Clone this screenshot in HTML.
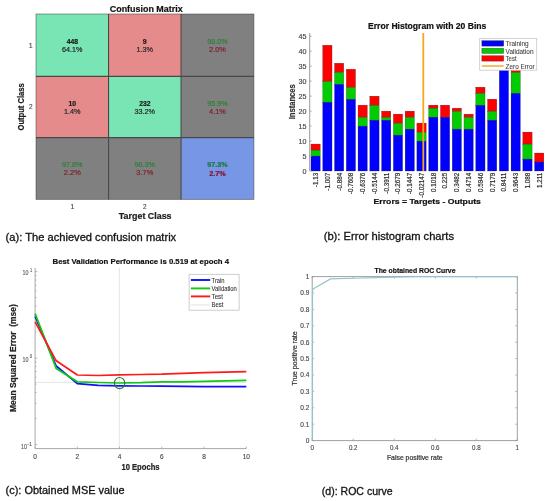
<!DOCTYPE html>
<html><head><meta charset="utf-8"><title>Figure</title>
<style>html,body{margin:0;padding:0;background:#fff;}svg{display:block;font-family:"Liberation Sans",Arial,sans-serif;filter:blur(0.35px);}</style>
</head><body>
<svg width="550" height="501" viewBox="0 0 550 501">
<rect width="550" height="501" fill="#fff"/>
<rect x="36" y="14" width="72.55" height="62.40" fill="#79e4b4"/>
<rect x="108.55" y="14" width="72.50" height="62.40" fill="#e68b8b"/>
<rect x="181.05" y="14" width="72.85" height="62.40" fill="#808080"/>
<rect x="36" y="76.4" width="72.55" height="61.20" fill="#e68b8b"/>
<rect x="108.55" y="76.4" width="72.50" height="61.20" fill="#79e4b4"/>
<rect x="181.05" y="76.4" width="72.85" height="61.20" fill="#808080"/>
<rect x="36" y="137.6" width="72.55" height="61.80" fill="#808080"/>
<rect x="108.55" y="137.6" width="72.50" height="61.80" fill="#808080"/>
<rect x="181.05" y="137.6" width="72.85" height="61.80" fill="#7796e6"/>
<line x1="108.55" y1="14" x2="108.55" y2="199.4" stroke="#484848" stroke-width="1.1"/>
<line x1="181.05" y1="14" x2="181.05" y2="199.4" stroke="#484848" stroke-width="1.1"/>
<line x1="36" y1="76.4" x2="253.9" y2="76.4" stroke="#484848" stroke-width="1.1"/>
<line x1="36" y1="137.6" x2="253.9" y2="137.6" stroke="#484848" stroke-width="1.1"/>
<rect x="36" y="14" width="217.90" height="185.40" fill="none" stroke="#3a3a3a" stroke-opacity="0.55" stroke-width="0.9"/>
<text x="72.28" y="44.03" font-size="6.8" stroke="#1a1a1a" stroke-width="0.2" font-weight="bold" text-anchor="middle" textLength="11.30" lengthAdjust="spacingAndGlyphs" fill="#1a1a1a">448</text>
<text x="72.28" y="52.13" font-size="6.8" stroke="#2a2a2a" stroke-width="0.2" text-anchor="middle" textLength="20.50" lengthAdjust="spacingAndGlyphs" fill="#2a2a2a">64.1%</text>
<text x="144.80" y="44.03" font-size="6.8" stroke="#1a1a1a" stroke-width="0.2" font-weight="bold" text-anchor="middle" textLength="3.90" lengthAdjust="spacingAndGlyphs" fill="#1a1a1a">9</text>
<text x="144.80" y="52.13" font-size="6.8" stroke="#2a2a2a" stroke-width="0.2" text-anchor="middle" textLength="16.60" lengthAdjust="spacingAndGlyphs" fill="#2a2a2a">1.3%</text>
<text x="72.28" y="105.83" font-size="6.8" stroke="#1a1a1a" stroke-width="0.2" font-weight="bold" text-anchor="middle" textLength="7.60" lengthAdjust="spacingAndGlyphs" fill="#1a1a1a">10</text>
<text x="72.28" y="113.93" font-size="6.8" stroke="#2a2a2a" stroke-width="0.2" text-anchor="middle" textLength="16.60" lengthAdjust="spacingAndGlyphs" fill="#2a2a2a">1.4%</text>
<text x="144.80" y="105.83" font-size="6.8" stroke="#1a1a1a" stroke-width="0.2" font-weight="bold" text-anchor="middle" textLength="11.30" lengthAdjust="spacingAndGlyphs" fill="#1a1a1a">232</text>
<text x="144.80" y="113.93" font-size="6.8" stroke="#2a2a2a" stroke-width="0.2" text-anchor="middle" textLength="20.50" lengthAdjust="spacingAndGlyphs" fill="#2a2a2a">33.2%</text>
<text x="217.48" y="44.03" font-size="6.8" stroke="#2f8038" stroke-width="0.2" text-anchor="middle" textLength="20.50" lengthAdjust="spacingAndGlyphs" fill="#2f8038">98.0%</text>
<text x="217.48" y="52.13" font-size="6.8" stroke="#7e2430" stroke-width="0.2" text-anchor="middle" textLength="16.90" lengthAdjust="spacingAndGlyphs" fill="#7e2430">2.0%</text>
<text x="217.48" y="105.83" font-size="6.8" stroke="#2f8038" stroke-width="0.2" text-anchor="middle" textLength="20.50" lengthAdjust="spacingAndGlyphs" fill="#2f8038">95.9%</text>
<text x="217.48" y="113.93" font-size="6.8" stroke="#7e2430" stroke-width="0.2" text-anchor="middle" textLength="16.90" lengthAdjust="spacingAndGlyphs" fill="#7e2430">4.1%</text>
<text x="72.28" y="167.33" font-size="6.8" stroke="#2f8038" stroke-width="0.2" text-anchor="middle" textLength="20.50" lengthAdjust="spacingAndGlyphs" fill="#2f8038">97.8%</text>
<text x="72.28" y="175.43" font-size="6.8" stroke="#7e2430" stroke-width="0.2" text-anchor="middle" textLength="16.90" lengthAdjust="spacingAndGlyphs" fill="#7e2430">2.2%</text>
<text x="144.80" y="167.33" font-size="6.8" stroke="#2f8038" stroke-width="0.2" text-anchor="middle" textLength="20.50" lengthAdjust="spacingAndGlyphs" fill="#2f8038">96.3%</text>
<text x="144.80" y="175.43" font-size="6.8" stroke="#7e2430" stroke-width="0.2" text-anchor="middle" textLength="16.90" lengthAdjust="spacingAndGlyphs" fill="#7e2430">3.7%</text>
<text x="217.48" y="167.23" font-size="6.8" stroke="#1e7a3e" stroke-width="0.2" font-weight="bold" text-anchor="middle" textLength="20.40" lengthAdjust="spacingAndGlyphs" fill="#1e7a3e">97.3%</text>
<text x="217.48" y="175.53" font-size="6.8" stroke="#8a1030" stroke-width="0.2" font-weight="bold" text-anchor="middle" textLength="16.60" lengthAdjust="spacingAndGlyphs" fill="#8a1030">2.7%</text>
<text x="146.20" y="11.52" font-size="9.0" stroke="#111" stroke-width="0.2" font-weight="bold" text-anchor="middle" textLength="72.90" lengthAdjust="spacingAndGlyphs" fill="#111">Confusion Matrix</text>
<text x="30.60" y="47.81" font-size="7.0" stroke="#444" stroke-width="0.12" text-anchor="middle" fill="#444">1</text>
<text x="30.70" y="109.21" font-size="7.0" stroke="#444" stroke-width="0.12" text-anchor="middle" textLength="3.60" lengthAdjust="spacingAndGlyphs" fill="#444">2</text>
<text x="72.50" y="208.91" font-size="7.0" stroke="#444" stroke-width="0.12" text-anchor="middle" fill="#444">1</text>
<text x="144.80" y="208.71" font-size="7.0" stroke="#444" stroke-width="0.12" text-anchor="middle" textLength="3.60" lengthAdjust="spacingAndGlyphs" fill="#444">2</text>
<text x="145.20" y="218.94" font-size="8.2" stroke="#222" stroke-width="0.2" font-weight="bold" text-anchor="middle" textLength="52.70" lengthAdjust="spacingAndGlyphs" fill="#222">Target Class</text>
<text transform="translate(23.51,106.90) rotate(-90)" font-size="8.4" stroke="#222" stroke-width="0.2" font-weight="bold" text-anchor="middle" textLength="47.20" lengthAdjust="spacingAndGlyphs" fill="#222">Output Class</text>
<text x="5.60" y="240.60" font-size="10.6" stroke="#141414" stroke-width="0.3" textLength="170.60" lengthAdjust="spacingAndGlyphs" fill="#141414">(a): The achieved confusion matrix</text>
<rect x="310.95" y="156.03" width="9.3" height="14.98" fill="#0000ff" stroke="#333" stroke-width="0.25"/>
<rect x="310.95" y="150.03" width="9.3" height="5.99" fill="#00cc00" stroke="#333" stroke-width="0.25"/>
<rect x="310.95" y="144.04" width="9.3" height="5.99" fill="#ff0000" stroke="#333" stroke-width="0.25"/>
<rect x="322.72" y="102.11" width="9.3" height="68.89" fill="#0000ff" stroke="#333" stroke-width="0.25"/>
<rect x="322.72" y="81.15" width="9.3" height="20.96" fill="#00cc00" stroke="#333" stroke-width="0.25"/>
<rect x="322.72" y="45.21" width="9.3" height="35.94" fill="#ff0000" stroke="#333" stroke-width="0.25"/>
<rect x="334.49" y="84.14" width="9.3" height="86.86" fill="#0000ff" stroke="#333" stroke-width="0.25"/>
<rect x="334.49" y="72.16" width="9.3" height="11.98" fill="#00cc00" stroke="#333" stroke-width="0.25"/>
<rect x="334.49" y="63.18" width="9.3" height="8.98" fill="#ff0000" stroke="#333" stroke-width="0.25"/>
<rect x="346.26" y="99.12" width="9.3" height="71.88" fill="#0000ff" stroke="#333" stroke-width="0.25"/>
<rect x="346.26" y="87.14" width="9.3" height="11.98" fill="#00cc00" stroke="#333" stroke-width="0.25"/>
<rect x="346.26" y="69.17" width="9.3" height="17.97" fill="#ff0000" stroke="#333" stroke-width="0.25"/>
<rect x="358.03" y="126.07" width="9.3" height="44.93" fill="#0000ff" stroke="#333" stroke-width="0.25"/>
<rect x="358.03" y="117.09" width="9.3" height="8.98" fill="#00cc00" stroke="#333" stroke-width="0.25"/>
<rect x="358.03" y="105.11" width="9.3" height="11.98" fill="#ff0000" stroke="#333" stroke-width="0.25"/>
<rect x="369.80" y="120.09" width="9.3" height="50.91" fill="#0000ff" stroke="#333" stroke-width="0.25"/>
<rect x="369.80" y="105.11" width="9.3" height="14.98" fill="#00cc00" stroke="#333" stroke-width="0.25"/>
<rect x="369.80" y="96.12" width="9.3" height="8.98" fill="#ff0000" stroke="#333" stroke-width="0.25"/>
<rect x="381.57" y="120.09" width="9.3" height="50.91" fill="#0000ff" stroke="#333" stroke-width="0.25"/>
<rect x="381.57" y="117.09" width="9.3" height="3.00" fill="#00cc00" stroke="#333" stroke-width="0.25"/>
<rect x="381.57" y="111.10" width="9.3" height="5.99" fill="#ff0000" stroke="#333" stroke-width="0.25"/>
<rect x="393.34" y="135.06" width="9.3" height="35.94" fill="#0000ff" stroke="#333" stroke-width="0.25"/>
<rect x="393.34" y="123.08" width="9.3" height="11.98" fill="#00cc00" stroke="#333" stroke-width="0.25"/>
<rect x="393.34" y="114.09" width="9.3" height="8.98" fill="#ff0000" stroke="#333" stroke-width="0.25"/>
<rect x="405.11" y="129.07" width="9.3" height="41.93" fill="#0000ff" stroke="#333" stroke-width="0.25"/>
<rect x="405.11" y="117.09" width="9.3" height="11.98" fill="#00cc00" stroke="#333" stroke-width="0.25"/>
<rect x="405.11" y="111.10" width="9.3" height="5.99" fill="#ff0000" stroke="#333" stroke-width="0.25"/>
<rect x="416.88" y="141.05" width="9.3" height="29.95" fill="#0000ff" stroke="#333" stroke-width="0.25"/>
<rect x="416.88" y="132.06" width="9.3" height="8.98" fill="#00cc00" stroke="#333" stroke-width="0.25"/>
<rect x="416.88" y="123.08" width="9.3" height="8.98" fill="#ff0000" stroke="#333" stroke-width="0.25"/>
<rect x="428.65" y="117.09" width="9.3" height="53.91" fill="#0000ff" stroke="#333" stroke-width="0.25"/>
<rect x="428.65" y="108.10" width="9.3" height="8.98" fill="#00cc00" stroke="#333" stroke-width="0.25"/>
<rect x="428.65" y="105.11" width="9.3" height="3.00" fill="#ff0000" stroke="#333" stroke-width="0.25"/>
<rect x="440.42" y="117.09" width="9.3" height="53.91" fill="#0000ff" stroke="#333" stroke-width="0.25"/>
<rect x="440.42" y="105.11" width="9.3" height="11.98" fill="#ff0000" stroke="#333" stroke-width="0.25"/>
<rect x="452.19" y="129.07" width="9.3" height="41.93" fill="#0000ff" stroke="#333" stroke-width="0.25"/>
<rect x="452.19" y="111.10" width="9.3" height="17.97" fill="#00cc00" stroke="#333" stroke-width="0.25"/>
<rect x="452.19" y="108.10" width="9.3" height="3.00" fill="#ff0000" stroke="#333" stroke-width="0.25"/>
<rect x="463.96" y="129.07" width="9.3" height="41.93" fill="#0000ff" stroke="#333" stroke-width="0.25"/>
<rect x="463.96" y="117.09" width="9.3" height="11.98" fill="#00cc00" stroke="#333" stroke-width="0.25"/>
<rect x="463.96" y="114.09" width="9.3" height="3.00" fill="#ff0000" stroke="#333" stroke-width="0.25"/>
<rect x="475.73" y="105.11" width="9.3" height="65.89" fill="#0000ff" stroke="#333" stroke-width="0.25"/>
<rect x="475.73" y="93.13" width="9.3" height="11.98" fill="#00cc00" stroke="#333" stroke-width="0.25"/>
<rect x="475.73" y="87.14" width="9.3" height="5.99" fill="#ff0000" stroke="#333" stroke-width="0.25"/>
<rect x="487.50" y="120.09" width="9.3" height="50.91" fill="#0000ff" stroke="#333" stroke-width="0.25"/>
<rect x="487.50" y="111.10" width="9.3" height="8.98" fill="#00cc00" stroke="#333" stroke-width="0.25"/>
<rect x="487.50" y="99.12" width="9.3" height="11.98" fill="#ff0000" stroke="#333" stroke-width="0.25"/>
<rect x="499.27" y="51.20" width="9.3" height="119.80" fill="#0000ff" stroke="#333" stroke-width="0.25"/>
<rect x="499.27" y="45.21" width="9.3" height="5.99" fill="#00cc00" stroke="#333" stroke-width="0.25"/>
<rect x="499.27" y="39.22" width="9.3" height="5.99" fill="#ff0000" stroke="#333" stroke-width="0.25"/>
<rect x="511.04" y="93.13" width="9.3" height="77.87" fill="#0000ff" stroke="#333" stroke-width="0.25"/>
<rect x="511.04" y="72.16" width="9.3" height="20.96" fill="#00cc00" stroke="#333" stroke-width="0.25"/>
<rect x="511.04" y="66.17" width="9.3" height="5.99" fill="#ff0000" stroke="#333" stroke-width="0.25"/>
<rect x="522.81" y="159.02" width="9.3" height="11.98" fill="#0000ff" stroke="#333" stroke-width="0.25"/>
<rect x="522.81" y="144.04" width="9.3" height="14.98" fill="#00cc00" stroke="#333" stroke-width="0.25"/>
<rect x="522.81" y="132.06" width="9.3" height="11.98" fill="#ff0000" stroke="#333" stroke-width="0.25"/>
<rect x="534.58" y="162.01" width="9.3" height="8.98" fill="#0000ff" stroke="#333" stroke-width="0.25"/>
<rect x="534.58" y="153.03" width="9.3" height="8.98" fill="#ff0000" stroke="#333" stroke-width="0.25"/>
<line x1="423.3" y1="33.0" x2="423.3" y2="171.0" stroke="#f6a51e" stroke-width="1.8"/>
<line x1="309.7" y1="33.0" x2="309.7" y2="171.0" stroke="#9a9a9a" stroke-width="1"/>
<line x1="309.7" y1="171.00" x2="311.7" y2="171.00" stroke="#9a9a9a" stroke-width="0.8"/>
<text x="306.60" y="173.69" font-size="6.4" stroke="#444" stroke-width="0.14" text-anchor="end" textLength="3.99" lengthAdjust="spacingAndGlyphs" fill="#444">0</text>
<line x1="309.7" y1="156.03" x2="311.7" y2="156.03" stroke="#9a9a9a" stroke-width="0.8"/>
<text x="306.60" y="158.72" font-size="6.4" stroke="#444" stroke-width="0.14" text-anchor="end" textLength="3.99" lengthAdjust="spacingAndGlyphs" fill="#444">5</text>
<line x1="309.7" y1="141.05" x2="311.7" y2="141.05" stroke="#9a9a9a" stroke-width="0.8"/>
<text x="306.60" y="143.74" font-size="6.4" stroke="#444" stroke-width="0.14" text-anchor="end" textLength="7.97" lengthAdjust="spacingAndGlyphs" fill="#444">10</text>
<line x1="309.7" y1="126.07" x2="311.7" y2="126.07" stroke="#9a9a9a" stroke-width="0.8"/>
<text x="306.60" y="128.77" font-size="6.4" stroke="#444" stroke-width="0.14" text-anchor="end" textLength="7.97" lengthAdjust="spacingAndGlyphs" fill="#444">15</text>
<line x1="309.7" y1="111.10" x2="311.7" y2="111.10" stroke="#9a9a9a" stroke-width="0.8"/>
<text x="306.60" y="113.79" font-size="6.4" stroke="#444" stroke-width="0.14" text-anchor="end" textLength="7.97" lengthAdjust="spacingAndGlyphs" fill="#444">20</text>
<line x1="309.7" y1="96.12" x2="311.7" y2="96.12" stroke="#9a9a9a" stroke-width="0.8"/>
<text x="306.60" y="98.82" font-size="6.4" stroke="#444" stroke-width="0.14" text-anchor="end" textLength="7.97" lengthAdjust="spacingAndGlyphs" fill="#444">25</text>
<line x1="309.7" y1="81.15" x2="311.7" y2="81.15" stroke="#9a9a9a" stroke-width="0.8"/>
<text x="306.60" y="83.84" font-size="6.4" stroke="#444" stroke-width="0.14" text-anchor="end" textLength="7.97" lengthAdjust="spacingAndGlyphs" fill="#444">30</text>
<line x1="309.7" y1="66.17" x2="311.7" y2="66.17" stroke="#9a9a9a" stroke-width="0.8"/>
<text x="306.60" y="68.87" font-size="6.4" stroke="#444" stroke-width="0.14" text-anchor="end" textLength="7.97" lengthAdjust="spacingAndGlyphs" fill="#444">35</text>
<line x1="309.7" y1="51.20" x2="311.7" y2="51.20" stroke="#9a9a9a" stroke-width="0.8"/>
<text x="306.60" y="53.89" font-size="6.4" stroke="#444" stroke-width="0.14" text-anchor="end" textLength="7.97" lengthAdjust="spacingAndGlyphs" fill="#444">40</text>
<line x1="309.7" y1="36.22" x2="311.7" y2="36.22" stroke="#9a9a9a" stroke-width="0.8"/>
<text x="306.60" y="38.92" font-size="6.4" stroke="#444" stroke-width="0.14" text-anchor="end" textLength="7.97" lengthAdjust="spacingAndGlyphs" fill="#444">45</text>
<text transform="translate(317.96,172.80) rotate(-90)" font-size="6.3" stroke="#333" stroke-width="0.2" text-anchor="end" textLength="14.36" lengthAdjust="spacingAndGlyphs" fill="#333">-1.13</text>
<text transform="translate(329.73,172.80) rotate(-90)" font-size="6.3" stroke="#333" stroke-width="0.2" text-anchor="end" textLength="17.86" lengthAdjust="spacingAndGlyphs" fill="#333">-1.007</text>
<text transform="translate(341.50,172.80) rotate(-90)" font-size="6.3" stroke="#333" stroke-width="0.2" text-anchor="end" textLength="17.86" lengthAdjust="spacingAndGlyphs" fill="#333">-0.884</text>
<text transform="translate(353.27,172.80) rotate(-90)" font-size="6.3" stroke="#333" stroke-width="0.2" text-anchor="end" textLength="21.36" lengthAdjust="spacingAndGlyphs" fill="#333">-0.7608</text>
<text transform="translate(365.04,172.80) rotate(-90)" font-size="6.3" stroke="#333" stroke-width="0.2" text-anchor="end" textLength="21.36" lengthAdjust="spacingAndGlyphs" fill="#333">-0.6376</text>
<text transform="translate(376.81,172.80) rotate(-90)" font-size="6.3" stroke="#333" stroke-width="0.2" text-anchor="end" textLength="21.36" lengthAdjust="spacingAndGlyphs" fill="#333">-0.5144</text>
<text transform="translate(388.58,172.80) rotate(-90)" font-size="6.3" stroke="#333" stroke-width="0.2" text-anchor="end" textLength="20.90" lengthAdjust="spacingAndGlyphs" fill="#333">-0.3911</text>
<text transform="translate(400.35,172.80) rotate(-90)" font-size="6.3" stroke="#333" stroke-width="0.2" text-anchor="end" textLength="21.36" lengthAdjust="spacingAndGlyphs" fill="#333">-0.2679</text>
<text transform="translate(412.12,172.80) rotate(-90)" font-size="6.3" stroke="#333" stroke-width="0.2" text-anchor="end" textLength="21.36" lengthAdjust="spacingAndGlyphs" fill="#333">-0.1447</text>
<text transform="translate(423.89,172.80) rotate(-90)" font-size="6.3" stroke="#333" stroke-width="0.2" text-anchor="end" textLength="24.87" lengthAdjust="spacingAndGlyphs" fill="#333">-0.02147</text>
<text transform="translate(435.66,172.80) rotate(-90)" font-size="6.3" stroke="#333" stroke-width="0.2" text-anchor="end" textLength="19.27" lengthAdjust="spacingAndGlyphs" fill="#333">0.1018</text>
<text transform="translate(447.43,172.80) rotate(-90)" font-size="6.3" stroke="#333" stroke-width="0.2" text-anchor="end" textLength="15.76" lengthAdjust="spacingAndGlyphs" fill="#333">0.225</text>
<text transform="translate(459.20,172.80) rotate(-90)" font-size="6.3" stroke="#333" stroke-width="0.2" text-anchor="end" textLength="19.27" lengthAdjust="spacingAndGlyphs" fill="#333">0.3482</text>
<text transform="translate(470.97,172.80) rotate(-90)" font-size="6.3" stroke="#333" stroke-width="0.2" text-anchor="end" textLength="19.27" lengthAdjust="spacingAndGlyphs" fill="#333">0.4714</text>
<text transform="translate(482.74,172.80) rotate(-90)" font-size="6.3" stroke="#333" stroke-width="0.2" text-anchor="end" textLength="19.27" lengthAdjust="spacingAndGlyphs" fill="#333">0.5946</text>
<text transform="translate(494.51,172.80) rotate(-90)" font-size="6.3" stroke="#333" stroke-width="0.2" text-anchor="end" textLength="19.27" lengthAdjust="spacingAndGlyphs" fill="#333">0.7179</text>
<text transform="translate(506.28,172.80) rotate(-90)" font-size="6.3" stroke="#333" stroke-width="0.2" text-anchor="end" textLength="18.80" lengthAdjust="spacingAndGlyphs" fill="#333">0.8411</text>
<text transform="translate(518.05,172.80) rotate(-90)" font-size="6.3" stroke="#333" stroke-width="0.2" text-anchor="end" textLength="19.27" lengthAdjust="spacingAndGlyphs" fill="#333">0.9643</text>
<text transform="translate(529.82,172.80) rotate(-90)" font-size="6.3" stroke="#333" stroke-width="0.2" text-anchor="end" textLength="15.76" lengthAdjust="spacingAndGlyphs" fill="#333">1.088</text>
<text transform="translate(541.59,172.80) rotate(-90)" font-size="6.3" stroke="#333" stroke-width="0.2" text-anchor="end" textLength="15.30" lengthAdjust="spacingAndGlyphs" fill="#333">1.211</text>
<text x="368.00" y="29.40" font-size="8.6" stroke="#111" stroke-width="0.2" font-weight="bold" textLength="118.40" lengthAdjust="spacingAndGlyphs" fill="#111">Error Histogram with 20 Bins</text>
<text x="373.60" y="204.30" font-size="7.5" stroke="#111" stroke-width="0.2" font-weight="bold" textLength="107.30" lengthAdjust="spacingAndGlyphs" fill="#111">Errors = Targets - Outputs</text>
<text transform="translate(295.05,101.80) rotate(-90)" font-size="8.8" stroke="#333" stroke-width="0.2" font-weight="bold" text-anchor="middle" textLength="35.00" lengthAdjust="spacingAndGlyphs" fill="#333">Instances</text>
<rect x="479.7" y="38.4" width="57.0" height="31.8" fill="#fff" stroke="#c8c8c8" stroke-width="0.8"/>
<rect x="481.9" y="40.7" width="21.8" height="5.40" fill="#0000ff" stroke="#222" stroke-width="0.35"/>
<text x="505.60" y="46.33" font-size="6.5" stroke="#444" stroke-width="0.08" textLength="23.10" lengthAdjust="spacingAndGlyphs" fill="#444">Training</text>
<rect x="481.9" y="48.3" width="21.8" height="5.10" fill="#00cc00" stroke="#222" stroke-width="0.35"/>
<text x="505.60" y="53.78" font-size="6.5" stroke="#444" stroke-width="0.08" textLength="27.90" lengthAdjust="spacingAndGlyphs" fill="#444">Validation</text>
<rect x="481.9" y="55.8" width="21.8" height="5.30" fill="#ff0000" stroke="#222" stroke-width="0.35"/>
<text x="505.60" y="61.38" font-size="6.5" stroke="#444" stroke-width="0.08" textLength="11.00" lengthAdjust="spacingAndGlyphs" fill="#444">Test</text>
<line x1="481.9" y1="66" x2="503.7" y2="66" stroke="#f6a51e" stroke-width="1.4"/>
<text x="505.60" y="68.93" font-size="6.5" stroke="#444" stroke-width="0.08" textLength="29.00" lengthAdjust="spacingAndGlyphs" fill="#444">Zero Error</text>
<text x="323.70" y="240.40" font-size="10.6" stroke="#141414" stroke-width="0.3" textLength="130.30" lengthAdjust="spacingAndGlyphs" fill="#141414">(b): Error histogram charts</text>
<line x1="119.3" y1="268.0" x2="119.3" y2="448.6" stroke="#dfe8df" stroke-width="1"/>
<line x1="35.1" y1="382.4" x2="246.3" y2="382.4" stroke="#dfe8df" stroke-width="1"/>
<polyline points="35.1,268.0 35.1,448.6 246.3,448.6" fill="none" stroke="#a8a8a8" stroke-width="1"/>
<line x1="35.1" y1="444.60" x2="37.300000000000004" y2="444.60" stroke="#999" stroke-width="0.7"/>
<line x1="35.1" y1="418.56" x2="36.5" y2="418.56" stroke="#999" stroke-width="0.7"/>
<line x1="35.1" y1="403.33" x2="36.5" y2="403.33" stroke="#999" stroke-width="0.7"/>
<line x1="35.1" y1="392.52" x2="36.5" y2="392.52" stroke="#999" stroke-width="0.7"/>
<line x1="35.1" y1="384.14" x2="36.5" y2="384.14" stroke="#999" stroke-width="0.7"/>
<line x1="35.1" y1="377.29" x2="36.5" y2="377.29" stroke="#999" stroke-width="0.7"/>
<line x1="35.1" y1="371.50" x2="36.5" y2="371.50" stroke="#999" stroke-width="0.7"/>
<line x1="35.1" y1="366.48" x2="36.5" y2="366.48" stroke="#999" stroke-width="0.7"/>
<line x1="35.1" y1="362.06" x2="36.5" y2="362.06" stroke="#999" stroke-width="0.7"/>
<line x1="35.1" y1="358.10" x2="37.300000000000004" y2="358.10" stroke="#999" stroke-width="0.7"/>
<line x1="35.1" y1="332.06" x2="36.5" y2="332.06" stroke="#999" stroke-width="0.7"/>
<line x1="35.1" y1="316.83" x2="36.5" y2="316.83" stroke="#999" stroke-width="0.7"/>
<line x1="35.1" y1="306.02" x2="36.5" y2="306.02" stroke="#999" stroke-width="0.7"/>
<line x1="35.1" y1="297.64" x2="36.5" y2="297.64" stroke="#999" stroke-width="0.7"/>
<line x1="35.1" y1="290.79" x2="36.5" y2="290.79" stroke="#999" stroke-width="0.7"/>
<line x1="35.1" y1="285.00" x2="36.5" y2="285.00" stroke="#999" stroke-width="0.7"/>
<line x1="35.1" y1="279.98" x2="36.5" y2="279.98" stroke="#999" stroke-width="0.7"/>
<line x1="35.1" y1="275.56" x2="36.5" y2="275.56" stroke="#999" stroke-width="0.7"/>
<line x1="35.1" y1="271.60" x2="37.300000000000004" y2="271.60" stroke="#999" stroke-width="0.7"/>
<line x1="35.10" y1="448.6" x2="35.10" y2="446.6" stroke="#999" stroke-width="0.7"/>
<text x="35.10" y="459.28" font-size="7.2" stroke="#444" stroke-width="0.12" text-anchor="middle" textLength="3.62" lengthAdjust="spacingAndGlyphs" fill="#444">0</text>
<line x1="77.34" y1="448.6" x2="77.34" y2="446.6" stroke="#999" stroke-width="0.7"/>
<text x="77.34" y="459.28" font-size="7.2" stroke="#444" stroke-width="0.12" text-anchor="middle" textLength="3.62" lengthAdjust="spacingAndGlyphs" fill="#444">2</text>
<line x1="119.58" y1="448.6" x2="119.58" y2="446.6" stroke="#999" stroke-width="0.7"/>
<text x="119.58" y="459.28" font-size="7.2" stroke="#444" stroke-width="0.12" text-anchor="middle" textLength="3.62" lengthAdjust="spacingAndGlyphs" fill="#444">4</text>
<line x1="161.82" y1="448.6" x2="161.82" y2="446.6" stroke="#999" stroke-width="0.7"/>
<text x="161.82" y="459.28" font-size="7.2" stroke="#444" stroke-width="0.12" text-anchor="middle" textLength="3.62" lengthAdjust="spacingAndGlyphs" fill="#444">6</text>
<line x1="204.06" y1="448.6" x2="204.06" y2="446.6" stroke="#999" stroke-width="0.7"/>
<text x="204.06" y="459.28" font-size="7.2" stroke="#444" stroke-width="0.12" text-anchor="middle" textLength="3.62" lengthAdjust="spacingAndGlyphs" fill="#444">8</text>
<line x1="246.30" y1="448.6" x2="246.30" y2="446.6" stroke="#999" stroke-width="0.7"/>
<text x="246.30" y="459.28" font-size="7.2" stroke="#444" stroke-width="0.12" text-anchor="middle" textLength="7.24" lengthAdjust="spacingAndGlyphs" fill="#444">10</text>
<text x="28.60" y="275.11" font-size="7.0" stroke="#555" stroke-width="0.12" text-anchor="end" textLength="6.00" lengthAdjust="spacingAndGlyphs" fill="#555">10</text>
<text x="29.90" y="271.72" font-size="4.8" stroke="#555" stroke-width="0.08" textLength="2.20" lengthAdjust="spacingAndGlyphs" fill="#555">1</text>
<text x="28.60" y="361.71" font-size="7.0" stroke="#555" stroke-width="0.12" text-anchor="end" textLength="6.00" lengthAdjust="spacingAndGlyphs" fill="#555">10</text>
<text x="29.80" y="358.22" font-size="4.8" stroke="#555" stroke-width="0.08" textLength="2.40" lengthAdjust="spacingAndGlyphs" fill="#555">0</text>
<text x="26.90" y="448.81" font-size="7.0" stroke="#555" stroke-width="0.12" text-anchor="end" textLength="6.00" lengthAdjust="spacingAndGlyphs" fill="#555">10</text>
<text x="27.20" y="445.72" font-size="4.8" stroke="#555" stroke-width="0.08" textLength="4.90" lengthAdjust="spacingAndGlyphs" fill="#555">-1</text>
<polyline points="35.10,316.4 56.22,366 77.34,383.7 98.46,385.4 119.58,385.8 140.70,386.0 161.82,386.2 182.94,386.4 204.06,386.5 225.18,386.6 246.30,386.7" fill="none" stroke="#1010ff" stroke-width="1.75" stroke-linejoin="round"/>
<polyline points="35.10,313.6 56.22,368.4 77.34,381.8 98.46,382.5 119.58,383 140.70,382.7 161.82,381.9 182.94,381.8 204.06,381.4 225.18,380.9 246.30,380.4" fill="none" stroke="#10c810" stroke-width="1.75" stroke-linejoin="round"/>
<polyline points="35.10,321.8 56.22,360.8 77.34,375 98.46,375.5 119.58,374.8 140.70,374.5 161.82,374.2 182.94,373.4 204.06,372.7 225.18,372.2 246.30,371.7" fill="none" stroke="#ff1a1a" stroke-width="1.75" stroke-linejoin="round"/>
<ellipse cx="119.6" cy="383.1" rx="5.2" ry="5.6" fill="none" stroke="#2a7a30" stroke-width="1.2"/>
<text x="52.60" y="264.40" font-size="8.1" stroke="#111" stroke-width="0.2" font-weight="bold" textLength="176.40" lengthAdjust="spacingAndGlyphs" fill="#111">Best Validation Performance is 0.519 at epoch 4</text>
<text x="121.40" y="470.40" font-size="8.8" stroke="#222" stroke-width="0.2" font-weight="bold" textLength="38.20" lengthAdjust="spacingAndGlyphs" fill="#222">10 Epochs</text>
<text transform="translate(16.34,358.10) rotate(-90)" font-size="8.5" stroke="#222" stroke-width="0.2" font-weight="bold" text-anchor="middle" textLength="107.80" lengthAdjust="spacingAndGlyphs" fill="#222">Mean Squared Error  (mse)</text>
<rect x="189.1" y="274.3" width="50" height="35.9" fill="#fff" stroke="#c0c0c0" stroke-width="0.8"/>
<line x1="190.9" y1="280.0" x2="210.2" y2="280.0" stroke="#1010ff" stroke-width="1.9"/>
<text x="211.60" y="282.56" font-size="6.6" stroke="#333" stroke-width="0.08" textLength="13.00" lengthAdjust="spacingAndGlyphs" fill="#333">Train</text>
<line x1="190.9" y1="288.4" x2="210.2" y2="288.4" stroke="#10c810" stroke-width="1.9"/>
<text x="211.60" y="290.96" font-size="6.6" stroke="#333" stroke-width="0.08" textLength="25.20" lengthAdjust="spacingAndGlyphs" fill="#333">Validation</text>
<line x1="190.9" y1="296.4" x2="210.2" y2="296.4" stroke="#ff1a1a" stroke-width="1.9"/>
<text x="211.60" y="298.96" font-size="6.6" stroke="#333" stroke-width="0.08" textLength="11.30" lengthAdjust="spacingAndGlyphs" fill="#333">Test</text>
<line x1="190.9" y1="304.9" x2="210.2" y2="304.9" stroke="#dfe8df" stroke-width="1"/>
<text x="211.60" y="307.46" font-size="6.6" stroke="#333" stroke-width="0.08" textLength="11.90" lengthAdjust="spacingAndGlyphs" fill="#333">Best</text>
<text x="5.60" y="494.20" font-size="10.6" stroke="#141414" stroke-width="0.3" textLength="119.10" lengthAdjust="spacingAndGlyphs" fill="#141414">(c): Obtained MSE value</text>
<rect x="312.2" y="276.6" width="205.09999999999997" height="164.00" fill="none" stroke="#a0a0a0" stroke-width="1"/>
<line x1="312.2" y1="440.60" x2="314.2" y2="440.60" stroke="#999" stroke-width="0.7"/>
<line x1="517.3" y1="440.60" x2="515.3" y2="440.60" stroke="#999" stroke-width="0.7"/>
<text x="309.40" y="443.03" font-size="6.8" stroke="#444" stroke-width="0.12" text-anchor="end" textLength="3.62" lengthAdjust="spacingAndGlyphs" fill="#444">0</text>
<line x1="312.2" y1="424.20" x2="314.2" y2="424.20" stroke="#999" stroke-width="0.7"/>
<line x1="517.3" y1="424.20" x2="515.3" y2="424.20" stroke="#999" stroke-width="0.7"/>
<text x="309.40" y="426.63" font-size="6.8" stroke="#444" stroke-width="0.12" text-anchor="end" textLength="9.05" lengthAdjust="spacingAndGlyphs" fill="#444">0.1</text>
<line x1="312.2" y1="407.80" x2="314.2" y2="407.80" stroke="#999" stroke-width="0.7"/>
<line x1="517.3" y1="407.80" x2="515.3" y2="407.80" stroke="#999" stroke-width="0.7"/>
<text x="309.40" y="410.23" font-size="6.8" stroke="#444" stroke-width="0.12" text-anchor="end" textLength="9.05" lengthAdjust="spacingAndGlyphs" fill="#444">0.2</text>
<line x1="312.2" y1="391.40" x2="314.2" y2="391.40" stroke="#999" stroke-width="0.7"/>
<line x1="517.3" y1="391.40" x2="515.3" y2="391.40" stroke="#999" stroke-width="0.7"/>
<text x="309.40" y="393.83" font-size="6.8" stroke="#444" stroke-width="0.12" text-anchor="end" textLength="9.05" lengthAdjust="spacingAndGlyphs" fill="#444">0.3</text>
<line x1="312.2" y1="375.00" x2="314.2" y2="375.00" stroke="#999" stroke-width="0.7"/>
<line x1="517.3" y1="375.00" x2="515.3" y2="375.00" stroke="#999" stroke-width="0.7"/>
<text x="309.40" y="377.43" font-size="6.8" stroke="#444" stroke-width="0.12" text-anchor="end" textLength="9.05" lengthAdjust="spacingAndGlyphs" fill="#444">0.4</text>
<line x1="312.2" y1="358.60" x2="314.2" y2="358.60" stroke="#999" stroke-width="0.7"/>
<line x1="517.3" y1="358.60" x2="515.3" y2="358.60" stroke="#999" stroke-width="0.7"/>
<text x="309.40" y="361.03" font-size="6.8" stroke="#444" stroke-width="0.12" text-anchor="end" textLength="9.05" lengthAdjust="spacingAndGlyphs" fill="#444">0.5</text>
<line x1="312.2" y1="342.20" x2="314.2" y2="342.20" stroke="#999" stroke-width="0.7"/>
<line x1="517.3" y1="342.20" x2="515.3" y2="342.20" stroke="#999" stroke-width="0.7"/>
<text x="309.40" y="344.63" font-size="6.8" stroke="#444" stroke-width="0.12" text-anchor="end" textLength="9.05" lengthAdjust="spacingAndGlyphs" fill="#444">0.6</text>
<line x1="312.2" y1="325.80" x2="314.2" y2="325.80" stroke="#999" stroke-width="0.7"/>
<line x1="517.3" y1="325.80" x2="515.3" y2="325.80" stroke="#999" stroke-width="0.7"/>
<text x="309.40" y="328.23" font-size="6.8" stroke="#444" stroke-width="0.12" text-anchor="end" textLength="9.05" lengthAdjust="spacingAndGlyphs" fill="#444">0.7</text>
<line x1="312.2" y1="309.40" x2="314.2" y2="309.40" stroke="#999" stroke-width="0.7"/>
<line x1="517.3" y1="309.40" x2="515.3" y2="309.40" stroke="#999" stroke-width="0.7"/>
<text x="309.40" y="311.83" font-size="6.8" stroke="#444" stroke-width="0.12" text-anchor="end" textLength="9.05" lengthAdjust="spacingAndGlyphs" fill="#444">0.8</text>
<line x1="312.2" y1="293.00" x2="314.2" y2="293.00" stroke="#999" stroke-width="0.7"/>
<line x1="517.3" y1="293.00" x2="515.3" y2="293.00" stroke="#999" stroke-width="0.7"/>
<text x="309.40" y="295.43" font-size="6.8" stroke="#444" stroke-width="0.12" text-anchor="end" textLength="9.05" lengthAdjust="spacingAndGlyphs" fill="#444">0.9</text>
<line x1="312.2" y1="276.60" x2="314.2" y2="276.60" stroke="#999" stroke-width="0.7"/>
<line x1="517.3" y1="276.60" x2="515.3" y2="276.60" stroke="#999" stroke-width="0.7"/>
<text x="309.40" y="279.03" font-size="6.8" stroke="#444" stroke-width="0.12" text-anchor="end" textLength="3.62" lengthAdjust="spacingAndGlyphs" fill="#444">1</text>
<line x1="312.20" y1="440.6" x2="312.20" y2="438.6" stroke="#999" stroke-width="0.7"/>
<line x1="312.20" y1="276.6" x2="312.20" y2="278.6" stroke="#999" stroke-width="0.7"/>
<text x="312.20" y="450.43" font-size="6.8" stroke="#444" stroke-width="0.12" text-anchor="middle" textLength="3.45" lengthAdjust="spacingAndGlyphs" fill="#444">0</text>
<line x1="353.22" y1="440.6" x2="353.22" y2="438.6" stroke="#999" stroke-width="0.7"/>
<line x1="353.22" y1="276.6" x2="353.22" y2="278.6" stroke="#999" stroke-width="0.7"/>
<text x="353.22" y="450.43" font-size="6.8" stroke="#444" stroke-width="0.12" text-anchor="middle" textLength="8.62" lengthAdjust="spacingAndGlyphs" fill="#444">0.2</text>
<line x1="394.24" y1="440.6" x2="394.24" y2="438.6" stroke="#999" stroke-width="0.7"/>
<line x1="394.24" y1="276.6" x2="394.24" y2="278.6" stroke="#999" stroke-width="0.7"/>
<text x="394.24" y="450.43" font-size="6.8" stroke="#444" stroke-width="0.12" text-anchor="middle" textLength="8.62" lengthAdjust="spacingAndGlyphs" fill="#444">0.4</text>
<line x1="435.26" y1="440.6" x2="435.26" y2="438.6" stroke="#999" stroke-width="0.7"/>
<line x1="435.26" y1="276.6" x2="435.26" y2="278.6" stroke="#999" stroke-width="0.7"/>
<text x="435.26" y="450.43" font-size="6.8" stroke="#444" stroke-width="0.12" text-anchor="middle" textLength="8.62" lengthAdjust="spacingAndGlyphs" fill="#444">0.6</text>
<line x1="476.28" y1="440.6" x2="476.28" y2="438.6" stroke="#999" stroke-width="0.7"/>
<line x1="476.28" y1="276.6" x2="476.28" y2="278.6" stroke="#999" stroke-width="0.7"/>
<text x="476.28" y="450.43" font-size="6.8" stroke="#444" stroke-width="0.12" text-anchor="middle" textLength="8.62" lengthAdjust="spacingAndGlyphs" fill="#444">0.8</text>
<line x1="517.30" y1="440.6" x2="517.30" y2="438.6" stroke="#999" stroke-width="0.7"/>
<line x1="517.30" y1="276.6" x2="517.30" y2="278.6" stroke="#999" stroke-width="0.7"/>
<text x="517.30" y="450.43" font-size="6.8" stroke="#444" stroke-width="0.12" text-anchor="middle" textLength="3.45" lengthAdjust="spacingAndGlyphs" fill="#444">1</text>
<polyline points="312.51,440.60 312.51,289.72 313.84,288.57 330.45,278.90 353.22,278.24 383.98,277.42 414.75,276.60 517.30,276.60" fill="none" stroke="#92c3cf" stroke-width="1.1"/>
<text x="374.50" y="273.30" font-size="6.9" stroke="#111" stroke-width="0.2" font-weight="bold" textLength="81.00" lengthAdjust="spacingAndGlyphs" fill="#111">The obtained ROC Curve</text>
<text x="386.90" y="459.86" font-size="6.3" stroke="#333" stroke-width="0.2" textLength="55.80" lengthAdjust="spacingAndGlyphs" fill="#333">False positive rate</text>
<text transform="translate(297.26,358.40) rotate(-90)" font-size="6.3" stroke="#333" stroke-width="0.2" text-anchor="middle" textLength="54.30" lengthAdjust="spacingAndGlyphs" fill="#333">True positive rate</text>
<text x="321.80" y="494.70" font-size="10.6" stroke="#141414" stroke-width="0.3" textLength="70.90" lengthAdjust="spacingAndGlyphs" fill="#141414">(d): ROC curve</text>
</svg>
</body></html>
